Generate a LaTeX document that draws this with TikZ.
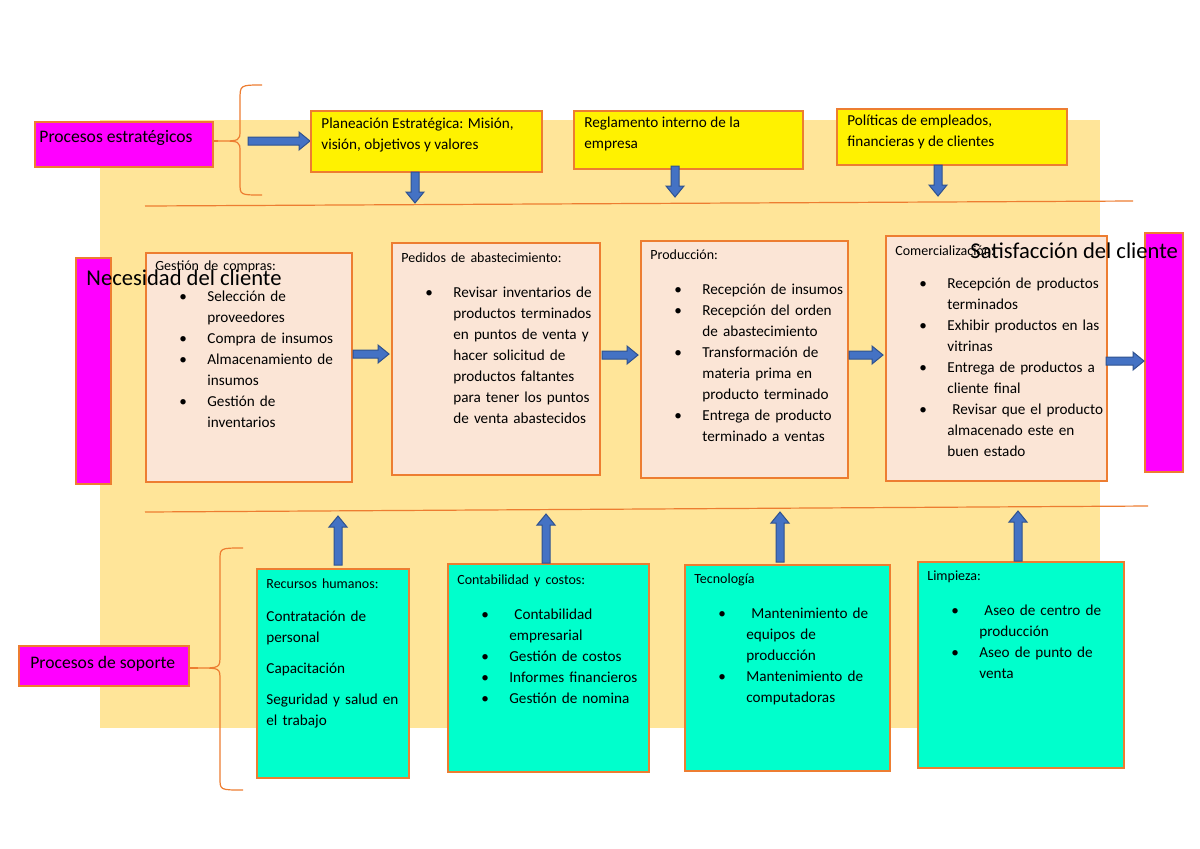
\documentclass[tikz,border=0pt]{standalone}
\usepackage{fontspec}
\setmainfont{Carlito}
\usepackage{enumitem}
\definecolor{bg}{HTML}{FFE599}
\definecolor{ob}{HTML}{ED7D31}
\definecolor{mag}{HTML}{FF00FF}
\definecolor{pk}{HTML}{FBE5D6}
\definecolor{cy}{HTML}{00FFCC}
\definecolor{ab}{HTML}{4472C4}
\definecolor{abd}{HTML}{2F528F}
\newlist{bl}{itemize}{1}
\setlist[bl]{label=\textbullet,leftmargin=26pt,labelsep=10pt,labelwidth=4pt,align=left,itemsep=0pt,topsep=0pt,parsep=0pt,partopsep=0pt}
\newcommand{\bodyf}{\fontsize{7.6}{10.5}\selectfont\raggedright}
\begin{document}
\begin{tikzpicture}[x=0.5pt,y=-0.5pt,
  box/.style={draw=ob,line width=1pt},
  txt/.style={anchor=north west,inner sep=0pt,align=left,font=\fontsize{7.6}{10.5}\selectfont},
  pics/barr/.style={code={\draw[fill=ab,draw=abd,line width=0.5pt] (0,-4)--(#1-11,-4)--(#1-11,-9)--(#1,0)--(#1-11,9)--(#1-11,4)--(0,4)--cycle;}},
  brc/.style={draw=ob,line width=0.6pt}]
\useasboundingbox (0,0) rectangle (1200,848);
\fill[bg] (100,120) rectangle (1100,728);
\coordinate (l1a) at (145,206); \coordinate (l1b) at (1133,201);
\coordinate (l2a) at (145,512); \coordinate (l2b) at (1148,506);
\draw[ob,line width=0.6pt] (l1a) -- (l1b);
\draw[ob,line width=0.6pt] (l2a) -- (l2b);
% strategic
\node[box,fill=mag,minimum width=89pt,minimum height=22.5pt,anchor=north west,inner sep=0pt] (pe) at (34,121) {};
\node[txt,font=\fontsize{8.8}{10}\selectfont,anchor=west] at (39,138) {Procesos estratégicos};
\draw[brc] (262,85) .. controls (240,85) and (240,85) .. (240,100) -- (240,130) .. controls (240,141) .. (218,141) .. controls (240,141) .. (240,152) -- (240,183) .. controls (240,195) and (240,195) .. (262,195);
\draw[brc] (212,141) -- (218,141);
\pic at (248,141) {barr=62};
\node[box,fill=yellow,minimum width=115.5pt,minimum height=30.5pt,anchor=north west] (y1) at (310,110) {};
\node[box,fill=yellow,minimum width=114.5pt,minimum height=29pt,anchor=north west] (y2) at (573,110) {};
\node[box,fill=yellow,minimum width=115pt,minimum height=28pt,anchor=north west] (y3) at (836,108) {};
\node[txt] at (321,118) {Planeación Estratégica: Misión,\\visión, objetivos y valores};
\node[txt] at (584,117) {Reglamento interno de la\\empresa};
\node[txt] at (847,115) {Políticas de empleados,\\financieras y de clientes};
\pic[rotate=-90] at (415,172) {barr=31};
\pic[rotate=-90] at (675,166) {barr=31};
\pic[rotate=-90] at (938,165) {barr=31};
% main row
\node[box,fill=mag,minimum width=17.5pt,minimum height=113pt,anchor=north west,inner sep=0pt] (nc) at (75,257) {};
\node[box,fill=mag,minimum width=19pt,minimum height=119.5pt,anchor=north west,inner sep=0pt] (sc) at (1144,232) {};
\node[box,fill=pk,minimum width=103pt,minimum height=114.5pt,anchor=north west] (b1) at (145,252) {};
\node[box,fill=pk,minimum width=104pt,minimum height=116pt,anchor=north west] (b2) at (391,242) {};
\node[box,fill=pk,minimum width=103.5pt,minimum height=118.5pt,anchor=north west] (b3) at (640,240) {};
\node[box,fill=pk,minimum width=110.5pt,minimum height=122.5pt,anchor=north west] (b4) at (885,235) {};
\node[txt,text width=94pt] at (155,260) {\fontsize{7}{8}\selectfont Gestión de compras:\par\vspace{5pt}\bodyf
\begin{bl}\item Selección de proveedores \item Compra de insumos \item Almacenamiento de insumos \item Gestión de inventarios\end{bl}};
\node[txt,text width=96pt] at (401,252) {\fontsize{7}{8}\selectfont Pedidos de abastecimiento:\par\vspace{7pt}\bodyf
\begin{bl}\item Revisar inventarios de productos terminados en puntos de venta y hacer solicitud de productos faltantes para tener los puntos de venta abastecidos\end{bl}};
\node[txt,text width=100pt] at (650,249) {\fontsize{7}{8}\selectfont Producción:\par\vspace{7pt}\bodyf
\begin{bl}\item Recepción de insumos \item Recepción del orden de abastecimiento \item Transformación de materia prima en producto terminado \item Entrega de producto terminado a ventas\end{bl}};
\node[txt,text width=104pt] at (895,245) {\fontsize{7}{8}\selectfont Comercialización:\par\vspace{6pt}\bodyf
\begin{bl}\item Recepción de productos terminados \item Exhibir productos en las vitrinas \item Entrega de productos a cliente final \item \ Revisar que el producto almacenado este en buen estado\end{bl}};
\node[txt,font=\fontsize{11.3}{12}\selectfont] at (86,269) {Necesidad del cliente};
\node[txt,font=\fontsize{11.3}{12}\selectfont] at (970,242) {Satisfacción del cliente};
\pic at (353,354) {barr=36};
\pic at (602,355) {barr=36};
\pic at (849,355) {barr=34};
\pic at (1106,361) {barr=38};
% support
\node[box,fill=mag,minimum width=85pt,minimum height=20pt,anchor=north west,inner sep=0pt] (ps) at (18,645) {};
\node[txt,font=\fontsize{8.8}{10}\selectfont,anchor=west] at (30,664) {Procesos de soporte};
\draw[brc] (243,548) .. controls (220,548) .. (220,560) -- (220,655) .. controls (220,668) .. (198,668) .. controls (220,668) .. (220,680) -- (220,778) .. controls (220,790) .. (243,790);
\draw[brc] (188,668) -- (198,668);
\node[box,fill=cy,minimum width=76pt,minimum height=104.5pt,anchor=north west] (c1) at (256,568) {};
\node[box,fill=cy,minimum width=100.5pt,minimum height=104pt,anchor=north west] (c2) at (447,563) {};
\node[box,fill=cy,minimum width=102.5pt,minimum height=103pt,anchor=north west] (c3) at (684,564) {};
\node[box,fill=cy,minimum width=103pt,minimum height=103pt,anchor=north west] (c4) at (917,561) {};
\node[txt,text width=72pt] at (266,578) {\fontsize{7}{8}\selectfont Recursos humanos:\par\vspace{6pt}\bodyf
Contratación de personal\par\vspace{5pt}Capacitación\par\vspace{5pt}Seguridad y salud en el trabajo};
\node[txt,text width=96pt] at (457,574) {\fontsize{7}{8}\selectfont Contabilidad y costos:\par\vspace{7pt}\bodyf
\begin{bl}\item \ Contabilidad empresarial \item Gestión de costos \item Informes financieros \item Gestión de nomina\end{bl}};
\node[txt,text width=94pt] at (694,573) {\fontsize{7}{8}\selectfont Tecnología\par\vspace{7pt}\bodyf
\begin{bl}\item \ Mantenimiento de equipos de producción \item Mantenimiento de computadoras\end{bl}};
\node[txt,text width=90pt] at (927,570) {\fontsize{7}{8}\selectfont Limpieza:\par\vspace{7pt}\bodyf
\begin{bl}\item \ Aseo de centro de producción \item Aseo de punto de venta\end{bl}};
\pic[rotate=90] at (338,565) {barr=49};
\pic[rotate=90] at (546,563) {barr=49};
\pic[rotate=90] at (780,562) {barr=50};
\pic[rotate=90] at (1018,561) {barr=50};
\end{tikzpicture}
\end{document}
